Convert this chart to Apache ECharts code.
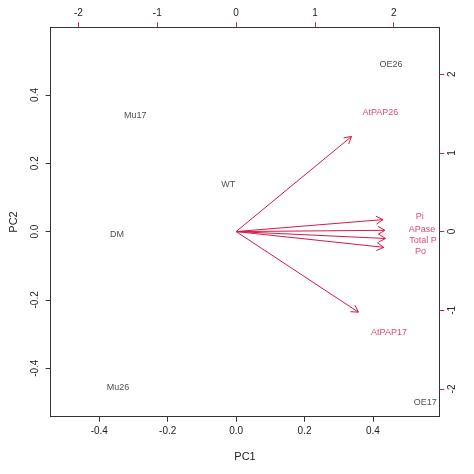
<!DOCTYPE html>
<html>
<head>
<meta charset="utf-8">
<script src="https://cdn.jsdelivr.net/npm/echarts@6/dist/echarts.min.js"></script>
<style>
  html, body { margin: 0; padding: 0; background: #fff; }
  #chart { width: 474px; height: 474px; }
</style>
</head>
<body>
<div id="chart"></div>
<script>
// observations (PC scores)
var obsNames = ["OE26", "Mu17", "WT", "DM", "Mu26", "OE17"];
var obsPC1 = [0.453, -0.295, -0.023, -0.348, -0.345, 0.553];
var obsPC2 = [0.490, 0.341, 0.139, -0.010, -0.457, -0.501];

// variables (loadings, label positions; arrows drawn at 0.8 of these)
var varNames = ["AtPAP26", "Pi", "APase", "Total P", "Po", "AtPAP17"];
var varPC1 = [1.83, 2.33, 2.36, 2.37, 2.34, 1.94];
var varPC2 = [1.51, 0.19, 0.02, -0.11, -0.25, -1.28];

// tick labels
var pcTicks = [-0.4, -0.2, 0, 0.2, 0.4];
var loadTicks = [-2, -1, 0, 1, 2];

var RED = "#d41a48";
var INK = "#222";
var FONT = "Liberation Sans";

var chart = echarts.init(document.getElementById("chart"));

var obsData = obsNames.map(function (n, i) { return [obsPC1[i], obsPC2[i], n]; });
var varData = varNames.map(function (n, i) { return [varPC1[i], varPC2[i], n]; });

var ratio = 4.34; // secondary / primary scale
var pMin = -0.542, pMaxX = 0.594, pMaxY = 0.598;

function primaryAxis(pos, min, max, name) {
  return {
    type: "value", position: pos, min: min, max: max,
    name: name, nameLocation: "middle",
    nameGap: pos === "bottom" ? 35 : 31,
    nameTextStyle: { color: INK, fontSize: 11, fontFamily: FONT },
    axisLine: { show: true, onZero: false, lineStyle: { color: "#333", width: 1 } },
    axisTick: { show: true, inside: false, length: 5, customValues: pcTicks, lineStyle: { color: "#333" } },
    axisLabel: {
      customValues: pcTicks, margin: 10, rotate: pos === "left" ? 90 : 0,
      color: INK, fontSize: 10, fontFamily: FONT,
      formatter: function (v) { return v.toFixed(1); }
    },
    splitLine: { show: false }
  };
}

function secondaryAxis(pos, min, max) {
  return {
    type: "value", position: pos, min: min, max: max,
    axisLine: { show: true, onZero: false, lineStyle: { color: "#333", width: 1 } },
    axisTick: { show: true, inside: false, length: 5, customValues: loadTicks, lineStyle: { color: RED } },
    axisLabel: {
      customValues: loadTicks, margin: pos === "right" ? 8 : 9, rotate: pos === "right" ? 90 : 0,
      color: INK, fontSize: 10, fontFamily: FONT,
      formatter: function (v) { return String(v); }
    },
    splitLine: { show: false }
  };
}

var option = {
  backgroundColor: "#fff",
  animation: false,
  grid: { left: 50.7, right: 34.7, top: 27.3, bottom: 57.3, containLabel: false, outerBoundsMode: "none" },
  xAxis: [
    primaryAxis("bottom", pMin, pMaxX, "PC1"),
    secondaryAxis("top", pMin * ratio, pMaxX * ratio)
  ],
  yAxis: [
    primaryAxis("left", pMin, pMaxY, "PC2"),
    secondaryAxis("right", pMin * ratio, pMaxY * ratio)
  ],
  series: [
    {
      // arrows for variables
      type: "custom",
      xAxisIndex: 1, yAxisIndex: 1,
      data: varData,
      encode: { x: 0, y: 1 },
      silent: true,
      renderItem: function (params, api) {
        var o = api.coord([0, 0]);
        var t = api.coord([api.value(0) * 0.8, api.value(1) * 0.8]);
        var ang = Math.atan2(t[1] - o[1], t[0] - o[0]);
        var L = 8, a = Math.PI / 6;
        var h1 = [t[0] - L * Math.cos(ang - a), t[1] - L * Math.sin(ang - a)];
        var h2 = [t[0] - L * Math.cos(ang + a), t[1] - L * Math.sin(ang + a)];
        return {
          type: "group",
          children: [
            { type: "line", shape: { x1: o[0], y1: o[1], x2: t[0], y2: t[1] }, style: { stroke: RED, lineWidth: 1 } },
            { type: "polyline", shape: { points: [h1, t, h2] }, style: { stroke: RED, fill: null, lineWidth: 1 } }
          ]
        };
      }
    },
    {
      // variable labels
      type: "scatter",
      xAxisIndex: 1, yAxisIndex: 1,
      data: varData,
      symbolSize: 1,
      itemStyle: { color: "rgba(0,0,0,0)" },
      label: {
        show: true, position: "inside",
        formatter: function (p) { return p.data[2]; },
        color: RED, fontSize: 9, fontFamily: FONT
      },
      silent: true
    },
    {
      // observation labels
      type: "scatter",
      xAxisIndex: 0, yAxisIndex: 0,
      data: obsData,
      symbolSize: 1,
      itemStyle: { color: "rgba(0,0,0,0)" },
      label: {
        show: true, position: "inside",
        formatter: function (p) { return p.data[2]; },
        color: INK, fontSize: 9, fontFamily: FONT
      },
      silent: true
    }
  ]
};

chart.setOption(option);
</script>
</body>
</html>
